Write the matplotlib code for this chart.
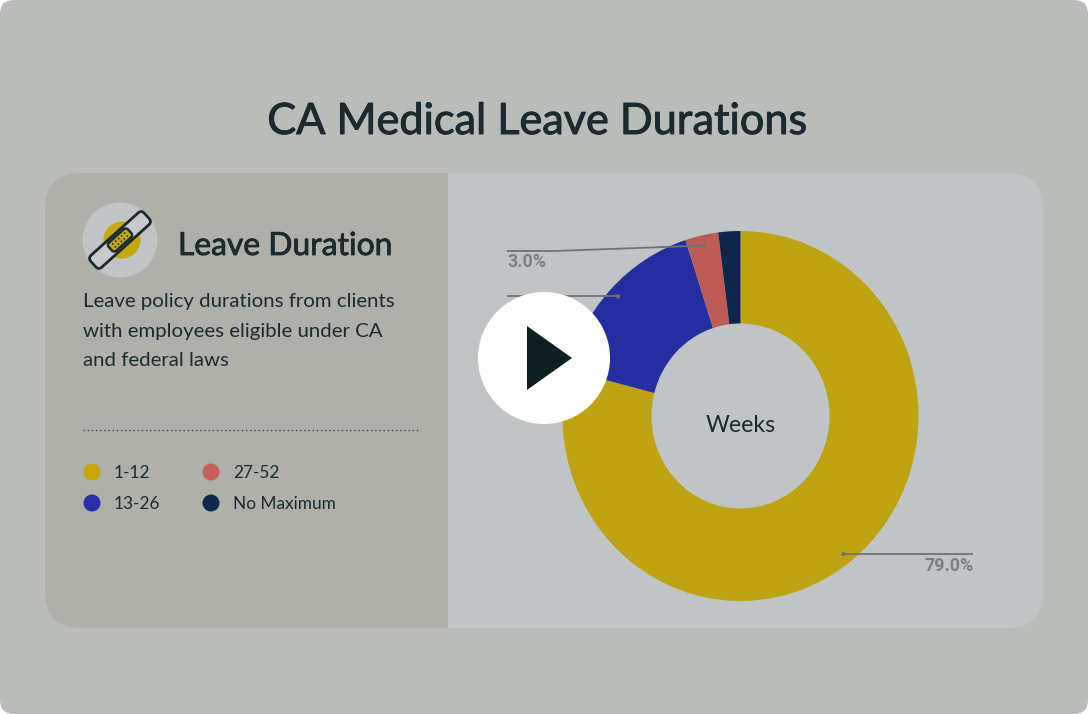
import numpy as np
import matplotlib
matplotlib.use("Agg")
import matplotlib.pyplot as plt
import matplotlib.patheffects as pe
from matplotlib.patches import Circle, FancyBboxPatch, Polygon, Rectangle
from matplotlib.transforms import Affine2D

# Data
categories = ["1-12", "13-26", "27-52", "No Maximum"]
shares = [79.0, 16.0, 3.0, 2.0]
slice_colors = ["#bea412", "#242ea0", "#bd5a53", "#0e264c"]
legend_colors = ["#c6a80e", "#2a30a8", "#c45f5a", "#0e2850"]

title = "CA Medical Leave Durations"
panel_title = "Leave Duration"
panel_text = ["Leave policy durations from clients",
              "with employees eligible under CA",
              "and federal laws"]

# Colors
PAGE = "#babcba"
LEFT_PANEL = "#b0b0aa"
RIGHT_PANEL = "#c0c4c5"
INK = "#1b2a2c"
LEADER = "#6e7373"
LABEL = "#7b7f7f"

W, H = 1088, 714
plt.rcParams['font.family'] = ['Lato', 'DejaVu Sans']

fig = plt.figure(figsize=(W / 100, H / 100), dpi=100, facecolor="white")

def pixel_axes(zorder):
    ax = fig.add_axes([0, 0, 1, 1], zorder=zorder)
    ax.set_xlim(0, W)
    ax.set_ylim(H, 0)
    ax.axis("off")
    return ax

# Slightly heavier headings
def heavy(width):
    return [pe.withStroke(linewidth=width, foreground=INK)]

# ----------------------------- Background -----------------------------

bg = pixel_axes(0)
bg.add_patch(FancyBboxPatch((10, 10), W - 20, H - 20, boxstyle="round,pad=10,rounding_size=14",
                            fc=PAGE, ec="none"))

card = dict(boxstyle="round,pad=0,rounding_size=36", ec="none")
bg.add_patch(FancyBboxPatch((45, 173), 998, 455, fc=RIGHT_PANEL, **card))
left = FancyBboxPatch((45, 173), 998, 455, fc=LEFT_PANEL, **card)
bg.add_patch(left)
left.set_clip_path(Rectangle((45, 173), 403, 455, transform=bg.transData))

bg.text(536.5, 122, title, ha="center", va="center", fontsize=31.1, color=INK,
        path_effects=heavy(0.7))
bg.text(178, 246, panel_title, ha="left", va="center", fontsize=22.9, color=INK,
        path_effects=heavy(0.6))
for i, line in enumerate(panel_text):
    bg.text(83, 302 + i * 29.5, line, ha="left", va="center", fontsize=14.7, color=INK)

bg.plot([83, 419], [430, 430], color="#4a5050", lw=1, ls=(0, (1, 2)))

# Legend, two columns
legend_x = [92, 211]
legend_y = [473, 504]
for i, (name, color) in enumerate(zip(categories, legend_colors)):
    x = legend_x[i // 2]
    y = legend_y[i % 2]
    bg.add_patch(Circle((x, y - 1), 8.5, fc=color, ec="none"))
    bg.text(x + 22, y, name, ha="left", va="center", fontsize=12.4, color=INK)

# ----------------------------- Icon -----------------------------

bg.add_patch(Circle((120, 240), 37.5, fc=RIGHT_PANEL, ec="none"))
bg.add_patch(Circle((122, 240), 18.5, fc="#c6a80e", ec="none"))

tilt = Affine2D().rotate_deg_around(120, 240, -42) + bg.transData
bg.add_patch(FancyBboxPatch((84, 232), 72, 16, boxstyle="round,pad=0,rounding_size=4.5",
                            fc="#c8cbca", ec=INK, lw=2, transform=tilt, zorder=3))
bg.add_patch(FancyBboxPatch((107, 234.5), 26, 11, boxstyle="round,pad=0,rounding_size=3.5",
                            fc="#c6a80e", ec=INK, lw=1.8, transform=tilt, zorder=4))
for dx in [-8, -4, 0, 4, 8]:
    for dy in [-2, 2]:
        bg.add_patch(Circle((120 + dx, 240 + dy), 0.9, fc=INK, ec="none", transform=tilt, zorder=5))

# ----------------------------- Donut -----------------------------

cx, cy, rx, ry = 740.5, 416, 178, 185
donut = fig.add_axes([(cx - rx) / W, 1 - (cy + ry) / H, 2 * rx / W, 2 * ry / H], zorder=1)
donut.pie(shares, colors=slice_colors, startangle=90, counterclock=False, radius=1,
          wedgeprops=dict(width=0.5, linewidth=0))
donut.set_aspect("auto")
donut.set_xlim(-1, 1)
donut.set_ylim(-1, 1)
donut.patch.set_visible(False)

top = pixel_axes(2)
top.text(740.5, 425, "Weeks", ha="center", va="center", fontsize=16.6, color=INK)

# Leader lines start on the middle of each slice
ends = np.cumsum(shares)
mids = (ends - np.array(shares) / 2) * 3.6
anchor_r = 0.944

def anchor(name):
    a = np.radians(mids[categories.index(name)])
    return cx + rx * anchor_r * np.sin(a), cy - ry * anchor_r * np.cos(a)

def leader(xs, ys):
    top.plot(xs, ys, color=LEADER, lw=1.3, solid_capstyle="butt")
    top.add_patch(Circle((xs[-1], ys[-1]), 2.2, fc=LEADER, ec="none"))

def pct_label(x, y, value, ha):
    top.text(x, y, f"{value:.1f}%", ha=ha, va="center", fontsize=12.9,
             fontfamily="Roboto", fontweight="bold", color=LABEL)

px, py = anchor("1-12")
leader([973, px], [py, py])
pct_label(973.5, py + 12, shares[0], "right")

px, py = anchor("13-26")
leader([507, px], [py, py])
pct_label(507, py + 12, shares[1], "left")

px, py = anchor("27-52")
leader([507, 555, px], [251, 251, py])
pct_label(507, 262, shares[2], "left")

# ----------------------------- Play button -----------------------------

top.add_patch(Circle((544, 358), 66, fc="white", ec="none", zorder=10))
top.add_patch(Polygon([(527, 326), (527, 390), (572, 358)], closed=True, fc="#0d1f20", ec="none", zorder=11))

fig.savefig("out.png", dpi=100, facecolor=fig.get_facecolor())
